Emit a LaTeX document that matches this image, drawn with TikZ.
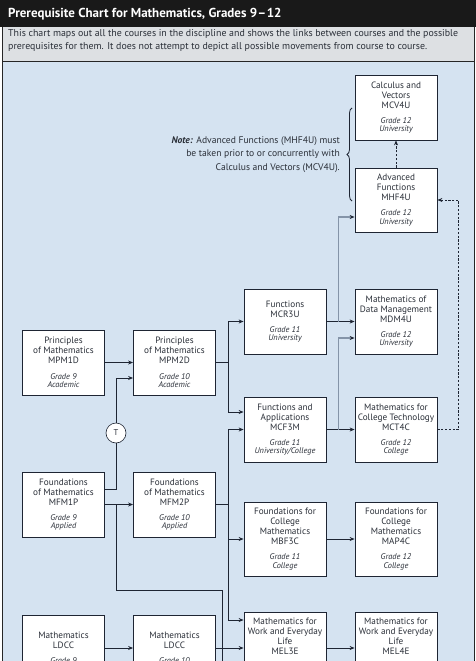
\documentclass[tikz,border=0pt]{standalone}
\usepackage{fontspec}
\setmainfont{PT Sans}
\usetikzlibrary{arrows.meta,decorations.pathreplacing}
\definecolor{bgblue}{HTML}{D5E3F1}
\definecolor{band}{HTML}{DDE0E3}
\definecolor{ink}{HTML}{1E2533}
\definecolor{txt}{HTML}{2A2F38}
\definecolor{vline}{HTML}{8494A8}
\newcommand{\gradefont}{\fontsize{8.3}{8.3}\selectfont\itshape}
\newcommand{\gradeinfo}[2]{\\[5.2pt]{\gradefont #1}\\[-1.7pt]{\gradefont #2}}
\tikzset{
  course/.style={draw=ink, fill=white, line width=0.8pt, minimum width=82pt,
    minimum height=65pt, inner sep=0pt, align=center,
    font=\fontsize{9.2}{10}\selectfont, text=txt},
  link/.style={draw=ink, line width=0.8pt, -{Stealth[length=5pt,width=4pt]}},
  plainlink/.style={draw=ink, line width=0.8pt},
  glink/.style={draw=vline, line width=1.3pt, -{Stealth[length=5pt,width=4pt,color=ink]}},
  dlink/.style={draw=ink, line width=0.7pt, dash pattern=on 2.2pt off 1.6pt, -{Stealth[length=5pt,width=4pt]}},
  tcircle/.style={circle, draw=ink, fill=white, line width=0.6pt, minimum size=20pt, inner sep=0pt, font=\fontsize{8.5}{9}\selectfont, text=txt}
}
\begin{document}
\begin{tikzpicture}[x=1pt,y=-1pt]
\useasboundingbox (0,0) rectangle (476,661);
\clip (0,0) rectangle (476,661);
% background
\fill[white] (0,0) rectangle (476,661);
\fill[black!90] (0,0) rectangle (476,27);
\fill[band] (2.5,27) rectangle (474.5,61.5);
\fill[bgblue] (2.5,61.5) rectangle (474.5,661);
\draw[black!85, line width=1.3pt] (2.3,27) -- (2.3,661) (474.7,27) -- (474.7,661);
\draw[black!85, line width=1.1pt] (2,61.8) -- (475,61.8);
\node[anchor=west, text=white, font=\fontsize{13}{15}\bfseries, inner sep=0pt] (title) at (8,14) {Prerequisite Chart for Mathematics, Grades 9\kern0.5pt--\kern0.5pt12};
\node[anchor=north west, align=left, text=txt, font=\fontsize{9.9}{13.2}\selectfont, inner sep=0pt] (desc) at (8,29.5)
 {This chart maps out all the courses in the discipline and shows the links between courses and the possible\\
  prerequisites for them. It does not attempt to depict all possible movements from course to course.};

% courses
\node[course] (mcv) at (396,107.5) {Calculus and\\Vectors\\MCV4U\gradeinfo{Grade 12}{University}};
\node[course, minimum height=64pt] (mhf) at (396,200) {Advanced\\Functions\\MHF4U\gradeinfo{Grade 12}{University}};
\node[course] (mcr) at (285,321.5) {Functions\\MCR3U\gradeinfo{Grade 11}{University}};
\node[course] (mdm) at (396,321.5) {Mathematics of\\Data Management\\MDM4U\gradeinfo{Grade 12}{University}};
\node[course] (mcf) at (285,429.5) {Functions and\\Applications\\MCF3M\gradeinfo{Grade 11}{University/College}};
\node[course] (mct) at (396,429.5) {Mathematics for\\College Technology\\MCT4C\gradeinfo{Grade 12}{College}};
\node[course] (mpm1) at (63.5,362.5) {Principles\\of Mathematics\\MPM1D\gradeinfo{Grade 9}{Academic}};
\node[course] (mpm2) at (174.5,362.5) {Principles\\of Mathematics\\MPM2D\gradeinfo{Grade 10}{Academic}};
\node[course] (mfm1) at (63.5,504.5) {Foundations\\of Mathematics\\MFM1P\gradeinfo{Grade 9}{Applied}};
\node[course] (mfm2) at (174.5,504.5) {Foundations\\of Mathematics\\MFM2P\gradeinfo{Grade 10}{Applied}};
\node[course, minimum height=74pt] (mbf) at (285,539) {Foundations for\\College\\Mathematics\\MBF3C\gradeinfo{Grade 11}{College}};
\node[course, minimum height=74pt] (map) at (396,539) {Foundations for\\College\\Mathematics\\MAP4C\gradeinfo{Grade 12}{College}};
\node[course, minimum height=72pt] (mel3) at (285,648) {Mathematics for\\Work and Everyday\\Life\\MEL3E\\[5.2pt]\mbox{}\\[-1.7pt]\mbox{}};
\node[course, minimum height=72pt] (mel4) at (396,648) {Mathematics for\\Work and Everyday\\Life\\MEL4E\\[5.2pt]\mbox{}\\[-1.7pt]\mbox{}};
\node[course, minimum height=66pt] (ld9) at (63.5,648) {Mathematics\\LDCC\\[5.2pt]{\gradefont Grade 9}};
\node[course, minimum height=66pt] (ld10) at (174.5,648) {Mathematics\\LDCC\\[5.2pt]{\gradefont Grade 10}};
\node[tcircle] (T) at (116,433) {T};

% connectors
\draw[link] (mpm1) -- (mpm2);
\draw[plainlink] ([yshift=15.5pt]mfm1.east) -| (T.south);
\draw[link] (T.north) |- ([yshift=-15.5pt]mpm2.west);
\draw[link] (mfm1) -- (mfm2);
\coordinate (j1) at (T |- mfm1.east);
\coordinate (j2) at (222,590);
\draw[link] (j1) |- (j2) |- ([yshift=-16pt]mel3.west);

\coordinate (b2) at ([xshift=12pt]mpm2.east);
\draw[plainlink] (mpm2.east) -- (b2);
\draw[link] (b2) |- (mcr.west);
\draw[link] (b2) |- ([yshift=17.5pt]mcf.west);

\coordinate (b3) at ([xshift=12pt]mfm2.east);
\draw[plainlink] (mfm2.east) -- (b3);
\draw[link] (b3) |- (mcf.west);
\draw[link] (b3) |- (mbf.west);
\draw[link] (b3) |- ([yshift=28pt]mel3.west);

\draw[link] (mcr) -- (mdm);
\draw[link] (mcf) -- (mct);
\draw[link] (mbf) -- (map);
\draw[link] (mel3) -- (mel4);
\draw[link] (ld9) -- (ld10);
\draw[link] (ld10) -- (mel3);

\coordinate (c1) at ([xshift=12pt]mcr.east);
\coordinate (c2) at ([xshift=12pt]mcf.east);
\draw[glink] (c1) |- ([yshift=-17pt]mhf.west);
\draw[glink] (c2) |- ([yshift=-16.5pt]mdm.west);

\coordinate (d1) at ([xshift=21pt]mct.east);
\draw[dlink] (mct.east) -- (d1) |- (mhf.east);
\draw[dlink] (mhf.north) -- (mcv.south);

% note
\coordinate (br1) at (352,201);
\coordinate (br2) at (352,108);
\draw[ink, line width=0.8pt, decorate, decoration={brace, amplitude=5pt}] (br1) -- (br2);
\node[anchor=east, align=right, text=txt, font=\fontsize{9.6}{13.4}\selectfont, inner sep=0pt] (note) at (340,154.5)
 {\textbf{\textit{Note:}} Advanced Functions (MHF4U) must\\be taken prior to or concurrently with\\Calculus and Vectors (MCV4U).};
\end{tikzpicture}
\end{document}
